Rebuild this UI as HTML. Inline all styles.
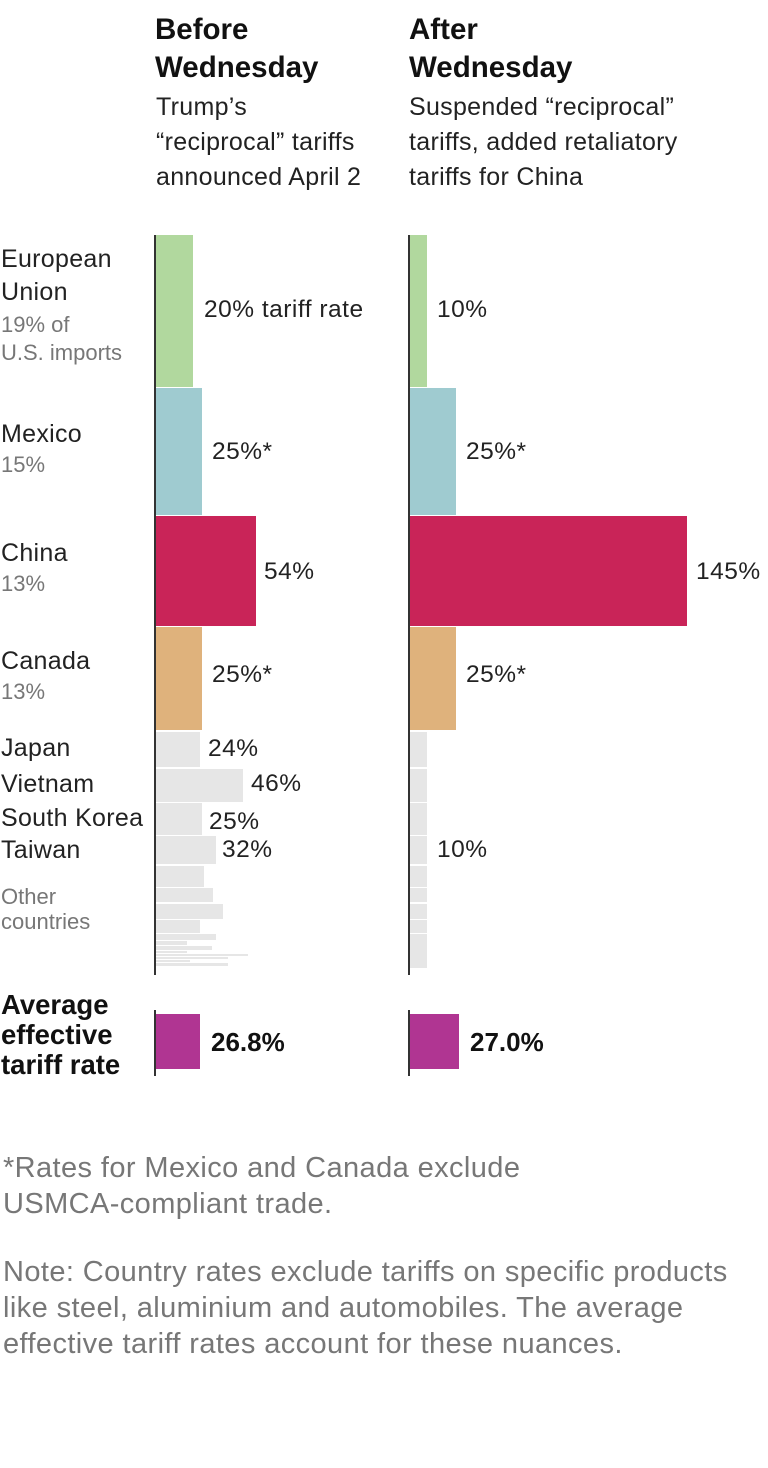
<!DOCTYPE html>
<html><head><meta charset="utf-8"><style>
body{margin:0;width:768px;height:1468px;background:#fff;position:relative;font-family:"Liberation Sans",sans-serif;color:#222;overflow:hidden}
div{position:absolute;white-space:nowrap}
.t{font-weight:bold;font-size:29.5px;line-height:38px;color:#111}
.s{font-size:25px;line-height:35px;color:#222;letter-spacing:0.3px}
.lab{font-size:25px;color:#222;line-height:33px;letter-spacing:0.3px}
.sub{font-size:22px;color:#777;line-height:28px}
.v{font-size:24.5px;color:#222;line-height:26px;letter-spacing:0.5px}
.ax{width:2px;background:#333}
.g{background:#e6e6e6}
.n{font-size:29px;color:#777;line-height:36px;letter-spacing:0.4px}
</style></head><body>
<div class="t" style="left:155px;top:11px">Before<br>Wednesday</div>
<div class="s" style="left:156px;top:90px">Trump’s<br>“reciprocal” tariffs<br>announced April 2</div>
<div class="t" style="left:409px;top:11px">After<br>Wednesday</div>
<div class="s" style="left:409px;top:90px">Suspended “reciprocal”<br>tariffs, added retaliatory<br>tariffs for China</div>

<div class="lab" style="left:1px;top:243px">European<br>Union</div>
<div class="sub" style="left:1px;top:311px">19% of<br>U.S. imports</div>
<div class="lab" style="left:1px;top:418px">Mexico</div>
<div class="sub" style="left:1px;top:451px">15%</div>
<div class="lab" style="left:1px;top:537px">China</div>
<div class="sub" style="left:1px;top:570px">13%</div>
<div class="lab" style="left:1px;top:645px">Canada</div>
<div class="sub" style="left:1px;top:678px">13%</div>
<div class="lab" style="left:1px;top:732px">Japan</div>
<div class="lab" style="left:1px;top:768px">Vietnam</div>
<div class="lab" style="left:1px;top:802px">South Korea</div>
<div class="lab" style="left:1px;top:834px">Taiwan</div>
<div class="sub" style="left:1px;top:884px;line-height:25px">Other<br>countries</div>

<div class="ax" style="left:154px;top:235px;height:740px"></div>
<div style="left:156px;top:235px;width:37px;height:152px;background:#b1d89e"></div>
<div style="left:156px;top:388px;width:46px;height:127px;background:#9fcbd0"></div>
<div style="left:156px;top:516px;width:100px;height:110px;background:#c92458"></div>
<div style="left:156px;top:627px;width:46px;height:103px;background:#dfb27c"></div>
<div class="g" style="left:156px;top:732px;width:44px;height:35px"></div>
<div class="g" style="left:156px;top:769px;width:87px;height:33px"></div>
<div class="g" style="left:156px;top:803px;width:46px;height:32px"></div>
<div class="g" style="left:156px;top:836px;width:60px;height:28px"></div>
<div class="g" style="left:156px;top:866px;width:48px;height:21px"></div>
<div class="g" style="left:156px;top:888px;width:57px;height:14px"></div>
<div class="g" style="left:156px;top:904px;width:67px;height:15px"></div>
<div class="g" style="left:156px;top:920px;width:44px;height:13px"></div>
<div class="g" style="left:156px;top:934px;width:60px;height:6px"></div>
<div class="g" style="left:156px;top:941px;width:31px;height:4px"></div>
<div class="g" style="left:156px;top:946px;width:56px;height:4px"></div>
<div class="g" style="left:156px;top:951px;width:31px;height:2px"></div>
<div class="g" style="left:156px;top:954px;width:92px;height:2px"></div>
<div class="g" style="left:156px;top:957px;width:72px;height:2px"></div>
<div class="g" style="left:156px;top:960px;width:34px;height:2px"></div>
<div class="g" style="left:156px;top:963px;width:72px;height:3px"></div>
<div class="v" style="left:204px;top:297px">20% tariff rate</div>
<div class="v" style="left:212px;top:439px">25%*</div>
<div class="v" style="left:264px;top:559px">54%</div>
<div class="v" style="left:212px;top:662px">25%*</div>
<div class="v" style="left:208px;top:736px">24%</div>
<div class="v" style="left:251px;top:771px">46%</div>
<div class="v" style="left:209px;top:809px">25%</div>
<div class="v" style="left:222px;top:837px">32%</div>

<div class="ax" style="left:408px;top:235px;height:740px"></div>
<div style="left:410px;top:235px;width:17px;height:152px;background:#b1d89e"></div>
<div style="left:410px;top:388px;width:46px;height:127px;background:#9fcbd0"></div>
<div style="left:410px;top:516px;width:277px;height:110px;background:#c92458"></div>
<div style="left:410px;top:627px;width:46px;height:103px;background:#dfb27c"></div>
<div class="g" style="left:410px;top:732px;width:17px;height:35px"></div>
<div class="g" style="left:410px;top:769px;width:17px;height:33px"></div>
<div class="g" style="left:410px;top:803px;width:17px;height:32px"></div>
<div class="g" style="left:410px;top:836px;width:17px;height:28px"></div>
<div class="g" style="left:410px;top:866px;width:17px;height:21px"></div>
<div class="g" style="left:410px;top:888px;width:17px;height:14px"></div>
<div class="g" style="left:410px;top:904px;width:17px;height:15px"></div>
<div class="g" style="left:410px;top:920px;width:17px;height:13px"></div>
<div class="g" style="left:410px;top:934px;width:17px;height:34px"></div>
<div class="v" style="left:437px;top:297px">10%</div>
<div class="v" style="left:466px;top:439px">25%*</div>
<div class="v" style="left:696px;top:559px">145%</div>
<div class="v" style="left:466px;top:662px">25%*</div>
<div class="v" style="left:437px;top:837px">10%</div>

<div style="left:1px;top:990px;font-weight:bold;font-size:27.5px;line-height:30px;color:#111">Average<br>effective<br>tariff rate</div>
<div class="ax" style="left:154px;top:1010px;height:66px"></div>
<div style="left:156px;top:1014px;width:44px;height:55px;background:#b03592"></div>
<div style="left:211px;top:1027px;font-weight:bold;font-size:26px;color:#111">26.8%</div>
<div class="ax" style="left:408px;top:1010px;height:66px"></div>
<div style="left:410px;top:1014px;width:49px;height:55px;background:#b03592"></div>
<div style="left:470px;top:1027px;font-weight:bold;font-size:26px;color:#111">27.0%</div>

<div class="n" style="left:3px;top:1150px">*Rates for Mexico and Canada exclude<br>USMCA-compliant trade.</div>
<div class="n" style="left:3px;top:1254px">Note: Country rates exclude tariffs on specific products<br>like steel, aluminium and automobiles. The average<br>effective tariff rates account for these nuances.</div>
</body></html>
